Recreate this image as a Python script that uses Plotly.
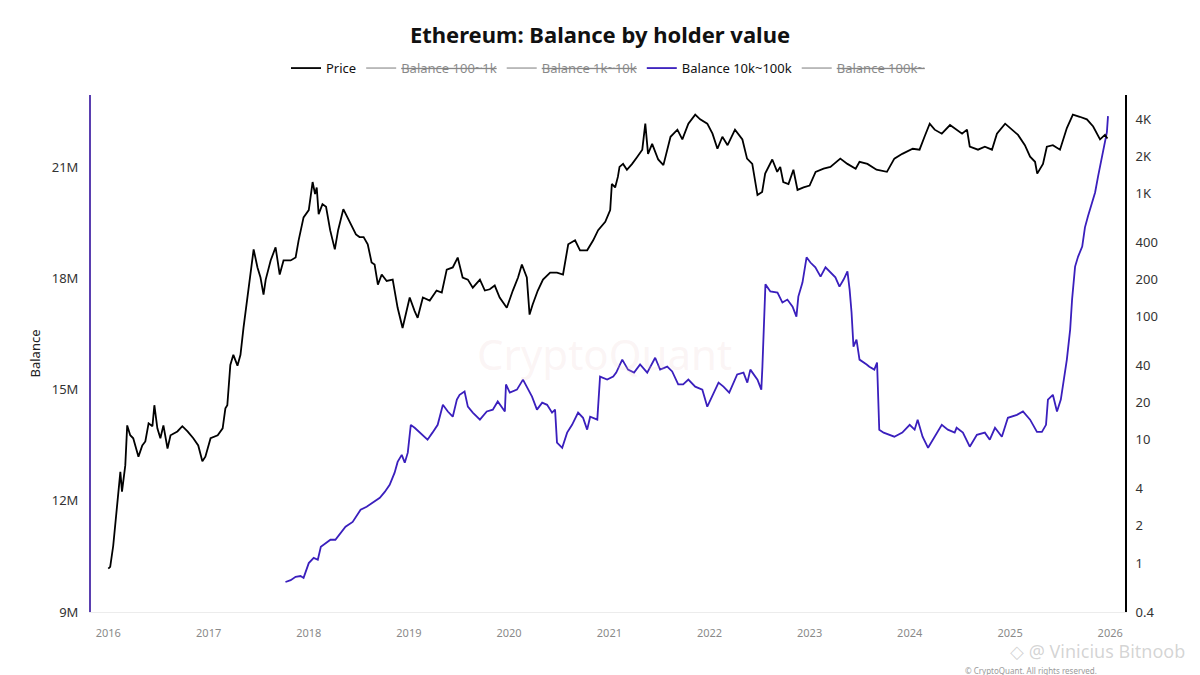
import plotly.graph_objects as go

# ETH price (USD), right log axis
price_dates = [
    '2016-01-01', '2016-01-08', '2016-01-19', '2016-01-30', '2016-02-14', '2016-02-20', '2016-03-03',
    '2016-03-10', '2016-03-21', '2016-04-01', '2016-04-20', '2016-05-04', '2016-05-15', '2016-05-27',
    '2016-06-10', '2016-06-17', '2016-06-28', '2016-07-09', '2016-07-20', '2016-08-04', '2016-08-15',
    '2016-09-09', '2016-09-27', '2016-10-16', '2016-11-06', '2016-11-24', '2016-12-09', '2016-12-20',
    '2017-01-08', '2017-02-03', '2017-02-21', '2017-03-03', '2017-03-10', '2017-03-21', '2017-04-01',
    '2017-04-16', '2017-04-27', '2017-05-08', '2017-05-23', '2017-06-03', '2017-06-14', '2017-06-28',
    '2017-07-09', '2017-07-20', '2017-07-28', '2017-08-15', '2017-09-02', '2017-09-17', '2017-10-01',
    '2017-10-27', '2017-11-14', '2017-11-25', '2017-12-13', '2018-01-01', '2018-01-15', '2018-01-24',
    '2018-01-30', '2018-02-06', '2018-02-20', '2018-03-05', '2018-03-20', '2018-04-06', '2018-04-18',
    '2018-05-07', '2018-05-22', '2018-06-03', '2018-06-22', '2018-07-05', '2018-07-20', '2018-08-04',
    '2018-08-18', '2018-08-29', '2018-09-10', '2018-09-24', '2018-10-12', '2018-11-03', '2018-11-21',
    '2018-12-09', '2019-01-04', '2019-01-22', '2019-02-02', '2019-02-21', '2019-03-18', '2019-04-12',
    '2019-05-01', '2019-05-19', '2019-06-10', '2019-06-28', '2019-07-16', '2019-08-04', '2019-08-22',
    '2019-09-17', '2019-10-05', '2019-10-23', '2019-11-10', '2019-11-28', '2019-12-24', '2020-01-15',
    '2020-02-03', '2020-02-17', '2020-03-06', '2020-03-16', '2020-03-27', '2020-04-15', '2020-05-04',
    '2020-05-30', '2020-06-24', '2020-07-16', '2020-08-04', '2020-08-29', '2020-09-16', '2020-10-12',
    '2020-11-03', '2020-11-21', '2020-12-17', '2021-01-04', '2021-01-10', '2021-01-22', '2021-02-01',
    '2021-02-07', '2021-02-20', '2021-03-06', '2021-03-25', '2021-04-13', '2021-05-01', '2021-05-12',
    '2021-05-22', '2021-06-06', '2021-06-28', '2021-07-17', '2021-08-12', '2021-09-06', '2021-09-24',
    '2021-10-16', '2021-11-10', '2021-11-28', '2021-12-24', '2022-01-12', '2022-01-30', '2022-02-17',
    '2022-03-08', '2022-04-04', '2022-05-01', '2022-05-18', '2022-06-06', '2022-06-25', '2022-07-12',
    '2022-07-23', '2022-08-18', '2022-09-05', '2022-09-16', '2022-09-27', '2022-10-16', '2022-11-03',
    '2022-11-18', '2022-12-10', '2023-01-01', '2023-01-23', '2023-02-21', '2023-03-18', '2023-04-23',
    '2023-05-19', '2023-06-18', '2023-07-02', '2023-07-31', '2023-09-02', '2023-10-10', '2023-11-06',
    '2023-12-05', '2024-01-12', '2024-02-06', '2024-02-24', '2024-03-14', '2024-04-01', '2024-04-27',
    '2024-05-27', '2024-06-21', '2024-07-10', '2024-07-28', '2024-08-07', '2024-09-06', '2024-10-01',
    '2024-10-27', '2024-11-14', '2024-12-14', '2025-01-08', '2025-01-30', '2025-02-24', '2025-03-15',
    '2025-04-02', '2025-04-10', '2025-05-01', '2025-05-15', '2025-06-06', '2025-07-02', '2025-07-27',
    '2025-08-18', '2025-09-12', '2025-10-08', '2025-10-31', '2025-11-25', '2025-12-13', '2025-12-22',
]
price = [
    0.9, 0.93, 1.38, 2.4, 5.5, 3.8, 6.2,
    13.1, 10.9, 10.3, 7.3, 9.0, 9.7, 13.6,
    12.9, 19.1, 12.4, 10.3, 13.1, 8.5, 10.9,
    11.7, 12.9, 11.7, 10.3, 9.0, 6.7, 7.3,
    10.3, 10.9, 12.4, 18, 19.1, 40.5, 49,
    40, 49, 81, 143, 237, 352, 251,
    208, 151, 200, 286, 366, 220, 286,
    286, 302, 417, 640, 733, 1240, 990,
    1120, 680, 820, 780, 504, 352, 504,
    747, 640, 564, 466, 443, 443, 387,
    276, 265, 182, 220, 195, 200, 118,
    81, 143, 111, 98, 143, 135, 163,
    157, 241, 251, 302, 208, 200, 172,
    200, 163, 167, 179, 143, 118, 163,
    208, 265, 208, 104, 125, 163, 200,
    228, 228, 220, 387, 417, 346, 346,
    417, 504, 590, 733, 1195, 1120, 1365,
    1645, 1740, 1560, 1740, 1990, 2270, 3690,
    2100, 2530, 1890, 1700, 2890, 3300, 2750,
    3690, 4370, 4000, 3690, 3060, 2310, 2890,
    2470, 3300, 2750, 1920, 1740, 972, 1030,
    1450, 1890, 1500, 1645, 1240, 1195, 1560,
    1070, 1120, 1160, 1500, 1590, 1645, 1920,
    1740, 1590, 1810, 1740, 1560, 1500, 1920,
    2100, 2310, 2270, 2890, 3690, 3300, 3060,
    3600, 3300, 3060, 3300, 2400, 2270, 2400,
    2270, 3060, 3690, 3300, 2990, 2470, 1990,
    1810, 1450, 1740, 2400, 2470, 2270, 3400,
    4370, 4200, 4000, 3500, 2750, 2990, 2800,
]

# Balance 10k~100k (millions of ETH), left axis
bal_dates = [
    '2017-10-08', '2017-10-27', '2017-11-14', '2017-12-02', '2017-12-13', '2018-01-01', '2018-01-19',
    '2018-02-03', '2018-02-14', '2018-03-03', '2018-03-21', '2018-04-08', '2018-04-27', '2018-05-15',
    '2018-06-10', '2018-06-25', '2018-07-09', '2018-07-31', '2018-08-26', '2018-09-17', '2018-10-05',
    '2018-10-23', '2018-11-10', '2018-11-21', '2018-12-06', '2018-12-17', '2018-12-28', '2019-01-08',
    '2019-01-22', '2019-02-10', '2019-02-28', '2019-03-10', '2019-03-28', '2019-04-16', '2019-05-05',
    '2019-05-23', '2019-06-10', '2019-06-25', '2019-07-05', '2019-07-23', '2019-08-04', '2019-08-22',
    '2019-09-17', '2019-10-12', '2019-11-03', '2019-11-21', '2019-12-17', '2019-12-21', '2020-01-04',
    '2020-01-30', '2020-02-21', '2020-03-06', '2020-03-25', '2020-04-12', '2020-05-01', '2020-05-19',
    '2020-06-06', '2020-06-17', '2020-06-24', '2020-07-13', '2020-07-31', '2020-08-18', '2020-09-09',
    '2020-09-27', '2020-10-12', '2020-10-23', '2020-11-18', '2020-11-28', '2020-12-24', '2021-01-15',
    '2021-01-26', '2021-02-17', '2021-03-10', '2021-04-01', '2021-04-23', '2021-05-19', '2021-06-17',
    '2021-07-05', '2021-07-31', '2021-08-18', '2021-09-09', '2021-09-27', '2021-10-16', '2021-11-10',
    '2021-12-06', '2021-12-24', '2022-01-12', '2022-02-03', '2022-02-21', '2022-03-14', '2022-04-12',
    '2022-05-05', '2022-05-19', '2022-05-30', '2022-06-25', '2022-07-09', '2022-07-13', '2022-07-24',
    '2022-08-11', '2022-09-06', '2022-09-24', '2022-10-12', '2022-10-31', '2022-11-14', '2022-11-21',
    '2022-12-06', '2022-12-21', '2023-01-04', '2023-01-22', '2023-02-10', '2023-02-28', '2023-03-18',
    '2023-04-05', '2023-04-20', '2023-05-05', '2023-05-19', '2023-05-27', '2023-06-03', '2023-06-10',
    '2023-06-21', '2023-07-02', '2023-07-28', '2023-08-07', '2023-08-25', '2023-09-04', '2023-09-12',
    '2023-09-28', '2023-11-06', '2023-12-05', '2024-01-01', '2024-01-19', '2024-01-30', '2024-02-17',
    '2024-03-08', '2024-04-01', '2024-04-27', '2024-05-19', '2024-06-13', '2024-06-20', '2024-07-13',
    '2024-08-07', '2024-09-02', '2024-10-01', '2024-10-19', '2024-11-07', '2024-12-02', '2024-12-24',
    '2025-01-26', '2025-02-17', '2025-03-15', '2025-04-09', '2025-04-27', '2025-05-12', '2025-05-19',
    '2025-06-06', '2025-06-21', '2025-07-05', '2025-07-13', '2025-07-27', '2025-08-08', '2025-08-15',
    '2025-08-26', '2025-09-06', '2025-09-21', '2025-10-01', '2025-10-12', '2025-10-27', '2025-11-07',
    '2025-11-18', '2025-12-02', '2025-12-09', '2025-12-20', '2025-12-24',
]
balance = [
    9.81, 9.86, 9.95, 9.97, 9.92, 10.32, 10.46,
    10.41, 10.76, 10.86, 10.95, 10.95, 11.14, 11.30,
    11.43, 11.60, 11.76, 11.84, 11.97, 12.08, 12.24,
    12.43, 12.76, 13.05, 13.24, 13.03, 13.30, 14.05,
    13.97, 13.84, 13.73, 13.65, 13.84, 14.05, 14.59,
    14.41, 14.27, 14.73, 14.86, 14.95, 14.54, 14.38,
    14.19, 14.41, 14.46, 14.68, 14.41, 15.14, 14.92,
    15.00, 15.27, 15.08, 14.81, 14.46, 14.65, 14.59,
    14.38, 14.46, 13.57, 13.43, 13.84, 14.05, 14.38,
    14.24, 13.92, 14.27, 14.19, 15.35, 15.27, 15.35,
    15.46, 15.81, 15.54, 15.46, 15.68, 15.46, 15.86,
    15.54, 15.62, 15.49, 15.14, 15.14, 15.27, 15.08,
    15.00, 14.54, 14.86, 15.19, 15.08, 14.92, 15.41,
    15.46, 15.19, 15.54, 15.27, 15.00, 15.62, 17.84,
    17.65, 17.62, 17.35, 17.43, 17.24, 16.97, 17.51,
    17.89, 18.57, 18.43, 18.30, 18.05, 18.30, 18.16,
    18.03, 17.78, 17.97, 18.19, 17.70, 17.08, 16.16,
    16.35, 15.81, 15.68, 15.62, 15.54, 15.73, 13.92,
    13.84, 13.73, 13.84, 14.05, 13.92, 14.19, 13.73,
    13.43, 13.73, 14.05, 13.92, 13.84, 13.97, 13.84,
    13.46, 13.78, 13.84, 13.65, 13.97, 13.73, 14.24,
    14.32, 14.41, 14.19, 13.86, 13.86, 14.05, 14.73,
    14.86, 14.41, 14.73, 15.08, 15.81, 16.62, 17.43,
    18.32, 18.59, 18.86, 19.38, 19.68, 20.05, 20.32,
    20.76, 21.30, 21.49, 21.95, 22.38,
]

hidden_series = ['Balance 100~1k', 'Balance 1k~10k', 'Balance 100k~']

bal_ticks = [9, 12, 15, 18, 21]
bal_ticktext = ['9M', '12M', '15M', '18M', '21M']
price_ticks = [0.4, 1, 2, 4, 10, 20, 40, 100, 200, 400, 1000, 2000, 4000]
price_ticktext = ['0.4', '1', '2', '4', '10', '20', '40', '100', '200', '400', '1K', '2K', '4K']
year_ticks = [str(y) + '-01-01' for y in range(2016, 2027)]
year_labels = [str(y) for y in range(2016, 2027)]

PURPLE = '#3a1fbd'
FONT = 'Noto Sans'


def struck(name):
    return '<span style="text-decoration:line-through">' + name + '</span>'


def hidden(name):
    # series switched off in the original legend: no data shown, label struck through
    return go.Scatter(x=[None], y=[None], name=struck(name), mode='lines', visible='legendonly',
                      line=dict(color='#6f6f6f', width=1.8))


fig = go.Figure()

fig.add_trace(go.Scatter(x=price_dates, y=price, name='Price', mode='lines',
                         line=dict(color='#000000', width=1.8), yaxis='y2'))
fig.add_trace(hidden(hidden_series[0]))
fig.add_trace(hidden(hidden_series[1]))
fig.add_trace(go.Scatter(x=bal_dates, y=balance, name='Balance 10k~100k', mode='lines',
                         line=dict(color=PURPLE, width=1.8)))
fig.add_trace(hidden(hidden_series[2]))

fig.update_layout(
    width=1200, height=675,
    paper_bgcolor='white', plot_bgcolor='white',
    font=dict(family=FONT, color='#222222', size=13),
    margin=dict(l=91, r=75, t=95, b=63),
    title=dict(text='<b>Ethereum: Balance by holder value</b>', x=0.5, xanchor='center',
               y=0.948, yanchor='middle', font=dict(size=22, color='#111111', family=FONT)),
    legend=dict(orientation='h', x=0.5, xanchor='center', y=1.052, yanchor='middle',
                font=dict(size=13, color='#111111'), itemclick=False, itemdoubleclick=False),
    showlegend=True,
    xaxis=dict(
        type='date',
        range=['2015-10-30', '2026-02-24'],
        tickvals=year_ticks, ticktext=year_labels,
        tickfont=dict(size=11, color='#8a8a8a'),
        showgrid=False, zeroline=False,
        showline=True, linecolor='#ececec', linewidth=1,
        ticks='', ticklabelstandoff=11,
    ),
    yaxis=dict(
        range=[9, 22.95],
        tickvals=bal_ticks, ticktext=bal_ticktext,
        tickfont=dict(size=13, color='#333333'),
        title=dict(text='Balance', font=dict(size=13, color='#222222'), standoff=8),
        showgrid=False, zeroline=False,
        showline=True, linecolor='#5a3fb0', linewidth=2,
        ticks='', ticklabelstandoff=8,
    ),
    yaxis2=dict(
        type='log', overlaying='y', side='right',
        range=[-0.398, 3.80],
        tickvals=price_ticks, ticktext=price_ticktext,
        tickfont=dict(size=13, color='#333333'),
        showgrid=False, zeroline=False,
        showline=True, linecolor='#000000', linewidth=2,
        ticks='', ticklabelstandoff=6,
    ),
    annotations=[
        dict(text='CryptoQuant', xref='paper', yref='paper', x=0.497, y=0.50,
             showarrow=False, font=dict(size=42, color='rgba(235,195,195,0.18)', family=FONT)),
        dict(text='◇ @ Vinicius Bitnoob', xref='paper', yref='paper', x=1.06, y=-0.076,
             xanchor='right', yanchor='middle', showarrow=False,
             font=dict(size=18, color='rgba(160,160,160,0.45)', family=FONT)),
        dict(text='© CryptoQuant. All rights reserved.', xref='paper', yref='paper', x=0.975, y=-0.113,
             xanchor='right', yanchor='middle', showarrow=False,
             font=dict(size=8, color='#9a9a9a', family=FONT)),
    ],
)

# the page body has a default 8px margin; drop it so the 1200x675 figure fills the window
fig.write_html('out.html', config={'displayModeBar': False},
               post_script="document.body.style.margin='0px';")
